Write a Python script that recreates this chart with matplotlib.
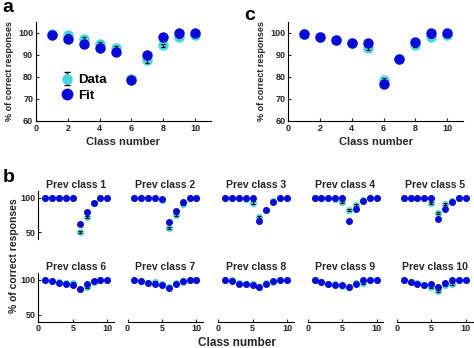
import numpy as np
import matplotlib.pyplot as plt

plt.rcParams['font.family'] = ['Liberation Sans', 'DejaVu Sans']
plt.rcParams['font.weight'] = 'bold'
plt.rcParams['axes.titleweight'] = 'bold'
plt.rcParams['axes.labelweight'] = 'bold'

classes = np.arange(1, 11)

# panel a: data vs fit
a_data = [99.5, 98.8, 97.0, 95.0, 93.0, 79.0, 87.4, 94.2, 98.0, 99.0]
a_err = [0.5, 0.6, 0.8, 0.8, 0.9, 1.0, 1.0, 0.8, 0.6, 0.5]
a_fit = [98.9, 97.1, 94.7, 92.9, 91.4, 78.6, 90.0, 98.0, 100.0, 100.0]

# panel c
c_data = [99.2, 98.0, 96.5, 95.2, 93.0, 78.6, 88.0, 94.2, 98.0, 99.0]
c_err = [0.5, 0.6, 0.7, 0.8, 0.9, 1.0, 1.0, 0.8, 0.6, 0.5]
c_fit = [99.2, 98.2, 96.5, 95.5, 95.5, 76.8, 87.9, 95.8, 100.0, 100.0]

# panel b: split by previous class
prev_data = [
    [100, 100, 100, 100, 99, 51, 72.6, 92, 100, 100],
    [100, 100, 100, 99.5, 97, 57, 75, 90.4, 99.5, 100],
    [100, 100, 100, 98, 93, 72.6, 81.7, 95, 99, 100],
    [100, 100, 100, 98, 94, 81.7, 89.4, 96, 100, 100],
    [100, 100, 100, 99, 92, 77.9, 90.4, 95, 100, 100],
    [99.5, 98.5, 96.5, 96, 95, 87, 90, 97, 99.5, 100],
    [99.5, 98, 96, 97, 94, 89, 95, 97, 99, 100],
    [99, 99, 95, 94, 93.5, 89.5, 95, 97, 99, 99.5],
    [99, 97.5, 94.5, 93.5, 91, 89.5, 96, 95, 99, 100],
    [100, 97.5, 95, 92, 90, 84.4, 92, 94.5, 99, 100],
]
prev_fit = [
    [100, 100, 100, 100, 99.5, 61.5, 78.8, 91.8, 100, 100],
    [100, 100, 100, 99.5, 98, 65.4, 81.3, 93.3, 100, 100],
    [100, 100, 100, 99, 99, 66.3, 81.7, 93.3, 100, 100],
    [100, 100, 100, 99, 99, 66.8, 83, 95, 100, 100],
    [100, 100, 100, 100, 99, 69, 83.6, 94.2, 100, 100],
    [99.5, 98.3, 96, 94.5, 93, 86.7, 94.5, 98.3, 99.5, 100],
    [99.5, 98, 95.5, 94.5, 93, 87.6, 94.5, 98.3, 99.5, 100],
    [99, 98, 94.5, 93.5, 93, 89, 94.5, 98.3, 99, 99.5],
    [99, 97, 94, 93, 92.5, 89, 94.5, 99, 100, 100],
    [100, 97, 94.5, 92, 93.6, 89, 95.4, 99, 100, 100],
]
prev_err = 1.5
prev_titles = ["Prev class %d" % i for i in range(1, 11)]

cyan = '#45d6e0'
blue = '#0a0ad6'
txt = '#262626'


def draw(ax, data, err, fit, ms, cap):
    ax.plot(classes, data, 'o', color=cyan, ms=ms, zorder=2)
    eb = ax.errorbar(classes, data, yerr=err, fmt='none', ecolor='black',
                     elinewidth=0.8, capsize=cap, capthick=0.8, zorder=2.5)
    ax.plot(classes, fit, 'o', color=blue, ms=ms, zorder=3)
    return eb


def boldticks(ax):
    for lab in ax.get_xticklabels() + ax.get_yticklabels():
        lab.set_fontweight('bold')


fig = plt.figure(figsize=(4.74, 3.48), dpi=100)

# big panels a and c
for left, data, err, fit in [(0.076, a_data, a_err, a_fit),
                             (0.608, c_data, c_err, c_fit)]:
    ax = fig.add_axes([left, 0.653, 0.369, 0.285])
    draw(ax, data, err, fit, 6.5, 1.5)
    ax.set_xlim(0, 11)
    ax.set_ylim(60, 105)
    ax.set_xticks([0, 2, 4, 6, 8, 10])
    ax.set_yticks([60, 70, 80, 90, 100])
    for s in ['top', 'right']:
        ax.spines[s].set_visible(False)
    ax.tick_params(direction='in', length=2.5, labelsize=6.5, colors=txt, pad=2)
    boldticks(ax)
    ax.set_xlabel('Class number', fontsize=8, color=txt, labelpad=3)
    ax.set_ylabel('% of correct responses', fontsize=6.5, color=txt, labelpad=3)
    if left < 0.5:
        hd = ax.errorbar([np.nan], [np.nan], yerr=[1], fmt='o', color=cyan,
                         ms=6.5, ecolor='black', elinewidth=1, capsize=2)
        hf, = ax.plot([np.nan], [np.nan], 'o', color=blue, ms=7.5)
        ax.legend([hd, hf], ['Data', 'Fit'], loc='center left',
                  bbox_to_anchor=(0.08, 0.33), frameon=False,
                  prop={'size': 9.5, 'weight': 'bold'}, handletextpad=0.4,
                  labelspacing=0.25, handlelength=0.8)

# panel b small multiples
lefts = [0.081, 0.269, 0.46, 0.649, 0.837]
bottoms = [0.312, 0.076]
for i in range(10):
    r, c = divmod(i, 5)
    ax = fig.add_axes([lefts[c], bottoms[r], 0.16, 0.14])
    draw(ax, prev_data[i], prev_err, prev_fit[i], 4, 1.2)
    ax.set_xlim(0, 11)
    ax.set_ylim(40, 110)
    ax.set_xticks([0, 5, 10])
    ax.set_yticks([50, 100])
    ax.set_title(prev_titles[i], fontsize=7.5, color=txt, pad=2)
    for s in ['top', 'right']:
        ax.spines[s].set_visible(False)
    ax.tick_params(direction='in', length=2, labelsize=6.5, colors=txt, pad=2)
    boldticks(ax)
    if c > 0:
        ax.spines['left'].set_visible(False)
        ax.tick_params(axis='y', left=False, labelleft=False)
    if r == 0:
        ax.spines['bottom'].set_visible(False)
        ax.tick_params(axis='x', bottom=False, labelbottom=False)

fig.text(0.03, 0.265, '% of correct responses', rotation=90, ha='center',
         va='center', fontsize=7.5, color=txt)
fig.text(0.5, 0.015, 'Class number', ha='center', va='center', fontsize=8.5,
         color=txt)

fig.text(0.005, 0.978, 'a', fontsize=14, weight='bold', va='center')
fig.text(0.515, 0.955, 'c', fontsize=14, weight='bold', va='center')
fig.text(0.005, 0.49, 'b', fontsize=14, weight='bold', va='center')

fig.savefig('out.png', dpi=100)
